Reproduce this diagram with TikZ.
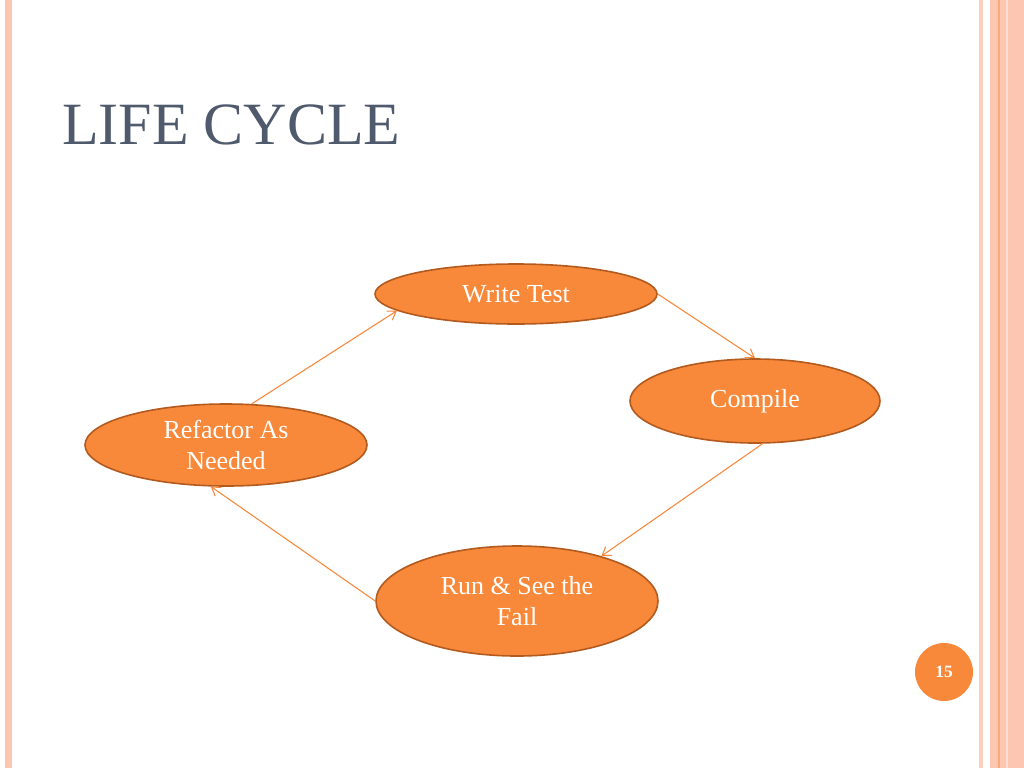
\documentclass[tikz,border=0pt]{standalone}
\usepackage{fontspec}
\setmainfont{Liberation Serif}
\usetikzlibrary{shapes.geometric,arrows.meta}
\definecolor{orf}{HTML}{F8883A}
\definecolor{ord}{HTML}{B35A1F}
\definecolor{sal}{HTML}{FCC6B2}
\definecolor{titc}{HTML}{4F5A6D}
\begin{document}
\begin{tikzpicture}[x=0.75pt,y=-0.75pt,
  ell/.style={ellipse,fill=orf,draw=ord,line width=1.2pt,text=white,font=\fontsize{19.5}{23.5}\selectfont,align=center,inner sep=0pt},
  conn/.style={draw=orf,line width=0.8pt,-{Straight Barb[length=6pt,width=8pt]}}]
\useasboundingbox (0,0) rectangle (1024,768);
\fill[white] (0,0) rectangle (1024,768);
\fill[sal] (5,0) rectangle (12,768);
\fill[sal!85] (979,0) rectangle (983,768);
\fill[sal] (990,0) rectangle (1024,768);
\fill[orf!70] (998,0) rectangle (999.5,768);
\fill[sal!60] (1006,0) rectangle (1008,768);
\node[anchor=base west,text=titc,font=\fontsize{45}{48}\selectfont,inner sep=0pt] (title) at (62,144) {LIFE CYCLE};
\node[ell,minimum width=211.5pt,minimum height=45pt] (wt) at (516,294) {Write Test};
\node[ell,minimum width=187.5pt,minimum height=63pt] (cp) at (755,401) {Compile};
\node[ell,minimum width=211.5pt,minimum height=61.5pt] (rf) at (226,445) {Refactor As\\Needed};
\node[ell,minimum width=211.5pt,minimum height=82.5pt] (rn) at (517,601) {Run \& See the\\Fail};
\node[circle,fill=orf,minimum size=43.5pt,inner sep=0pt,text=white,font=\bfseries\fontsize{13}{15}\selectfont] (pg) at (944,672) {15};
\draw[conn] (wt.east) -- (cp.north);
\draw[conn] (cp.-80) -- (rn.28);
\draw[conn] (rn.west) -- (rf.-110);
\draw[conn] (rf.58) -- (wt.188);
\end{tikzpicture}
\end{document}
